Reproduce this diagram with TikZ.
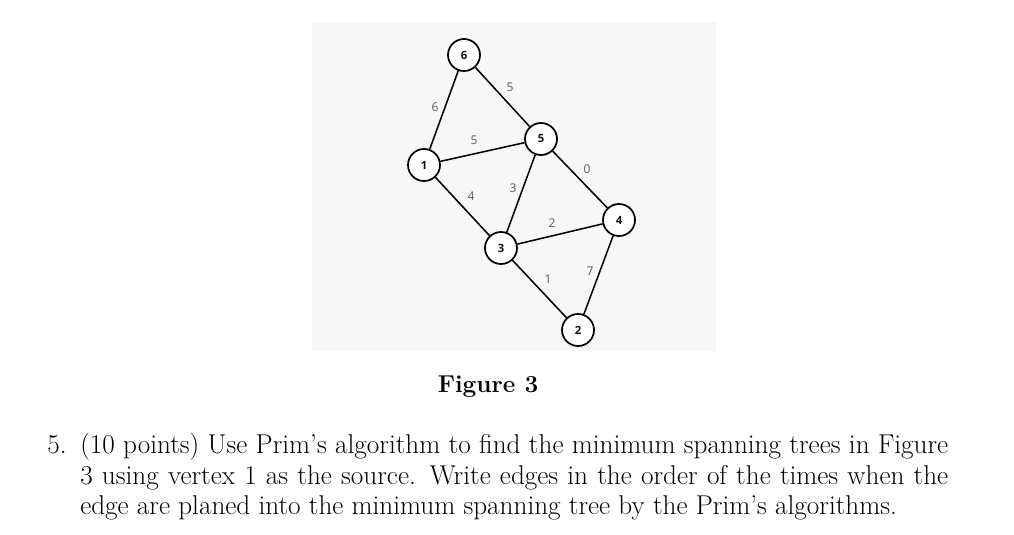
\documentclass[tikz,border=0pt]{standalone}
\usepackage{fontspec}
\newfontfamily\graphfont{Open Sans}
\definecolor{bggray}{HTML}{F7F7F7}
\definecolor{labelgray}{HTML}{5A5A5A}
\definecolor{nodeink}{HTML}{111111}
\begin{document}
\begin{tikzpicture}[x=0.75pt,y=-0.75pt,
  vertex/.style={circle,draw=black,line width=1.3pt,fill=white,minimum size=24pt,inner sep=0pt,
    text=nodeink,font=\graphfont\bfseries\fontsize{8.5}{8.5}\selectfont},
  edge/.style={line width=1.15pt,draw=black},
  wlabel/.style={font=\graphfont\fontsize{9}{9}\selectfont,text=labelgray,inner sep=0pt},
  bodytext/.style={anchor=base west,inner sep=0pt,font=\fontsize{20.4}{24}\selectfont}]
\useasboundingbox (0,0) rectangle (1014,535);
\fill[white] (0,0) rectangle (1014,535);
\fill[bggray] (312,22.5) rectangle (715.5,351);
% vertices
\node[vertex] (v6) at (464,55) {6};
\node[vertex] (v5) at (541,139) {5};
\node[vertex] (v1) at (424,165) {1};
\node[vertex] (v4) at (619,220) {4};
\node[vertex] (v3) at (501,248) {3};
\node[vertex] (v2) at (578,330) {2};
% edges
\draw[edge] (v6) -- (v1);
\draw[edge] (v6) -- (v5);
\draw[edge] (v1) -- (v5);
\draw[edge] (v1) -- (v3);
\draw[edge] (v5) -- (v3);
\draw[edge] (v5) -- (v4);
\draw[edge] (v3) -- (v4);
\draw[edge] (v3) -- (v2);
\draw[edge] (v4) -- (v2);
% weights
\node[wlabel] (w61) at (435,107) {6};
\node[wlabel] (w65) at (510,87) {5};
\node[wlabel] (w15) at (474,140) {5};
\node[wlabel] (w13) at (471,196) {4};
\node[wlabel] (w53) at (513,188) {3};
\node[wlabel] (w54) at (587,169) {0};
\node[wlabel] (w34) at (552,223) {2};
\node[wlabel] (w32) at (548,279) {1};
\node[wlabel] (w42) at (590,271) {7};
% caption and text
\node[anchor=base,inner sep=0pt,font=\fontsize{18.3}{22}\selectfont\bfseries] (cap) at (488,392) {Figure 3};
\node[bodytext] (num) at (47,453.5) {5.};
\node[bodytext] (l1) at (80,453.5) {\makebox[651pt][s]{(10 points) Use Prim's algorithm to find the minimum spanning trees in Figure}};
\node[bodytext] (l2) at (80,484) {\makebox[651pt][s]{3 using vertex 1 as the source. Write edges in the order of the times when the}};
\node[bodytext] (l3) at (80,514.5) {edge are planed into the minimum spanning tree by the Prim's algorithms.};
\end{tikzpicture}
\end{document}
